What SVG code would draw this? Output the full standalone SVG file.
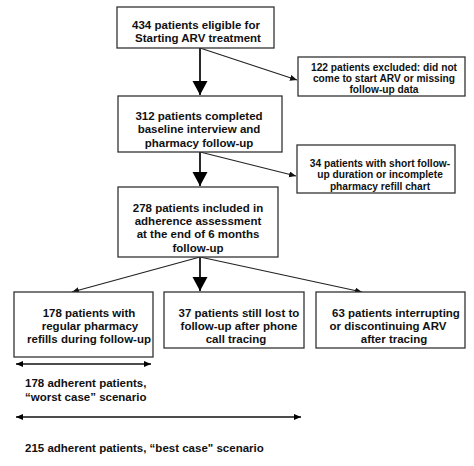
<svg xmlns="http://www.w3.org/2000/svg" width="474" height="466" viewBox="0 0 474 466">
<style>
.box{fill:#fff;stroke:#333;stroke-width:1.3}
.t{font-family:"Liberation Sans",Arial,sans-serif;font-weight:bold;font-size:11.5px;fill:#111;text-anchor:middle}
.s{font-size:10.2px}
.l{text-anchor:start}
.big{stroke:#111;stroke-width:1.8;fill:none}
.thin{stroke:#222;stroke-width:1.2;fill:none}
.dbl{stroke:#111;stroke-width:1.6;fill:none}
</style>
<defs>
<marker id="bigHead" markerUnits="userSpaceOnUse" markerWidth="16" markerHeight="16" refX="14" refY="7.5" orient="auto">
<path d="M0,0 L14,7.5 L0,15 z" fill="#000"/>
</marker>
<marker id="smallHead" markerUnits="userSpaceOnUse" markerWidth="10" markerHeight="10" refX="7" refY="3" orient="auto">
<path d="M0,0 L7,3 L0,6 z" fill="#111"/>
</marker>
<marker id="dblHead" markerUnits="userSpaceOnUse" markerWidth="10" markerHeight="10" refX="7" refY="3" orient="auto-start-reverse">
<path d="M0,0 L7,3 L0,6 z" fill="#000"/>
</marker>
</defs>
<rect width="474" height="466" fill="#fff"/>
<g id="connectors">
<line class="big" x1="200" y1="48" x2="200" y2="95" marker-end="url(#bigHead)"/>
<line class="thin" x1="200" y1="48" x2="297" y2="80" marker-end="url(#smallHead)"/>
<line class="big" x1="200" y1="152" x2="200" y2="186" marker-end="url(#bigHead)"/>
<line class="thin" x1="200" y1="152" x2="296" y2="176" marker-end="url(#smallHead)"/>
<line class="big" x1="200" y1="257" x2="200" y2="291" marker-end="url(#bigHead)"/>
<line class="thin" x1="200" y1="257" x2="72" y2="292" marker-end="url(#smallHead)"/>
<line class="thin" x1="200" y1="257" x2="362" y2="292" marker-end="url(#smallHead)"/>
</g>
<g id="n1">
<rect class="box" x="117" y="7" width="157" height="41"/>
<text class="t" x="196" y="29">434 patients eligible for</text>
<text class="t" x="198" y="41.5">Starting ARV treatment</text>
</g>
<g id="n2">
<rect class="box" x="298" y="57" width="167" height="39"/>
<text class="t s" x="384" y="70.5">122 patients excluded: did not</text>
<text class="t s" x="384" y="82">come to start ARV or missing</text>
<text class="t s" x="384" y="93">follow-up data</text>
</g>
<g id="n3">
<rect class="box" x="118" y="96" width="164" height="56"/>
<text class="t" x="199" y="120">312 patients completed</text>
<text class="t" x="199" y="133.3">baseline interview and</text>
<text class="t" x="199" y="146.7">pharmacy follow-up</text>
</g>
<g id="n4">
<rect class="box" x="297" y="145" width="158" height="48"/>
<text class="t s" x="380" y="166.7">34 patients with short follow-</text>
<text class="t s" x="380" y="178.3">up duration or incomplete</text>
<text class="t s" x="380" y="190">pharmacy refill chart</text>
</g>
<g id="n5">
<rect class="box" x="118" y="187" width="160" height="70"/>
<text class="t" x="198" y="211.7">278 patients included in</text>
<text class="t" x="198" y="225">adherence assessment</text>
<text class="t" x="198" y="238.3">at the end of 6 months</text>
<text class="t" x="198" y="251.5">follow-up</text>
</g>
<g id="n6">
<rect class="box" x="14" y="292" width="139" height="65"/>
<text class="t" x="89" y="316.7">178 patients with</text>
<text class="t" x="90" y="330">regular pharmacy</text>
<text class="t" x="89" y="343.3">refills during follow-up</text>
</g>
<g id="n7">
<rect class="box" x="164" y="292" width="140" height="56"/>
<text class="t" x="239" y="316.7">37 patients still lost to</text>
<text class="t" x="239" y="330">follow-up after phone</text>
<text class="t" x="236" y="343.3">call tracing</text>
</g>
<g id="n8">
<rect class="box" x="316" y="292" width="149" height="56"/>
<text class="t" x="396" y="316.7">63 patients interrupting</text>
<text class="t" x="388" y="329.5">or discontinuing ARV</text>
<text class="t" x="394" y="342.7">after tracing</text>
</g>
<g id="scenarios">
<line class="dbl" x1="16" y1="364" x2="151" y2="364" marker-start="url(#dblHead)" marker-end="url(#dblHead)"/>
<text class="t l" x="25" y="387.3">178 adherent patients,</text>
<text class="t l" x="25" y="400.7">“worst case” scenario</text>
<line class="dbl" x1="16" y1="417" x2="301" y2="417" marker-start="url(#dblHead)" marker-end="url(#dblHead)"/>
<text class="t l" x="25" y="451.7">215 adherent patients, “best case" scenario</text>
</g>
</svg>
